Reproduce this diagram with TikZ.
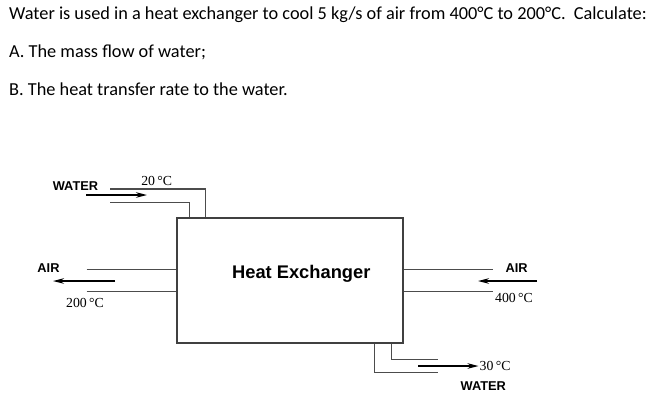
\documentclass[tikz,border=0pt]{standalone}
\usepackage{fontspec}
\newfontfamily\qfont{Carlito}
\newfontfamily\lblfont{Liberation Sans}
\newfontfamily\tmpfont{Liberation Serif}
\usetikzlibrary{arrows.meta,positioning}

\begin{document}
\begin{tikzpicture}[x=1pt,y=-1pt,>={Stealth[length=11pt,width=5.5pt]}]
  \tikzstyle{question}=[anchor=base west,inner sep=0pt,font=\qfont\fontsize{18.3}{20}\selectfont]
  \tikzstyle{exchanger}=[rectangle,draw=black!75,line width=1.2pt,minimum width=226pt,minimum height=125pt,inner sep=0pt]
  \tikzstyle{fluid}=[inner sep=0pt,font=\lblfont\bfseries\fontsize{12.8}{14}\selectfont]
  \tikzstyle{temp}=[inner sep=0pt,font=\tmpfont\fontsize{13.8}{15}\selectfont]
  \tikzstyle{pipe}=[draw=black!70,line width=1.1pt]
  \tikzstyle{flow}=[->,draw=black,line width=1.6pt]

  \useasboundingbox (0,0) rectangle (655,400);

  % Question text.
  \node [question] (q1) at (9,19) {Water is used in a heat exchanger to cool 5 kg/s of air from 400°C to 200°C.\ \ Calculate:};
  \node [question] (q2) at (9,57.3) {A. The mass flow of water;};
  \node [question] (q3) at (9,95) {B. The heat transfer rate to the water.};

  % Heat exchanger.
  \node [exchanger] (hx) at (290,280.5) {};
  \node [anchor=base,font=\lblfont\bfseries\fontsize{18.3}{20}\selectfont,inner sep=0pt] (hxlabel) at (301.3,278.3) {Heat Exchanger};

  % Water inlet.
  \coordinate (wina) at (110,189);
  \coordinate (winb) at (110,202.3);
  \draw [pipe] (wina) -| ([xshift=29pt]hx.north west);
  \draw [pipe] (winb) -| ([xshift=13pt]hx.north west);
  \coordinate (winfrom) at (86,195);
  \coordinate (winto) at (147,195);
  \draw [flow] (winfrom) -- (winto);
  \node [fluid] (winname) at (75.5,186) {WATER};
  \node [temp] (wintemp) at (156.7,180.5) {20\,°C};

  % Air outlet.
  \coordinate (aouta) at (86.7,269.3);
  \coordinate (aoutb) at (86.7,291.3);
  \draw [pipe] (aouta) -- (aouta -| hx.west);
  \draw [pipe] (aoutb) -- (aoutb -| hx.west);
  \coordinate (aoutfrom) at (115,281);
  \coordinate (aoutto) at (53,281);
  \draw [flow] (aoutfrom) -- (aoutto);
  \node [fluid] (aoutname) at (48.5,268) {AIR};
  \node [temp] (aouttemp) at (85,303) {200\,°C};

  % Air inlet.
  \coordinate (aina) at (493.3,269.3);
  \coordinate (ainb) at (493.3,291.3);
  \draw [pipe] (hx.east |- aina) -- (aina);
  \draw [pipe] (hx.east |- ainb) -- (ainb);
  \coordinate (ainfrom) at (537,281);
  \coordinate (ainto) at (478,281);
  \draw [flow] (ainfrom) -- (ainto);
  \node [fluid] (ainname) at (516.7,268) {AIR};
  \node [temp] (aintemp) at (514,297.5) {400\,°C};

  % Water outlet.
  \coordinate (wouta) at (437.7,372.3);
  \coordinate (woutb) at (437.7,359.3);
  \draw [pipe] ([xshift=-29pt]hx.south east) |- (wouta);
  \draw [pipe] ([xshift=-12.3pt]hx.south east) |- (woutb);
  \coordinate (woutfrom) at (418,366);
  \coordinate (woutto) at (478.5,366);
  \draw [flow] (woutfrom) -- (woutto);
  \node [temp] (wouttemp) [right=1pt of woutto] {30\,°C};
  \node [fluid] (woutname) at (483.3,385.7) {WATER};
\end{tikzpicture}
\end{document}
